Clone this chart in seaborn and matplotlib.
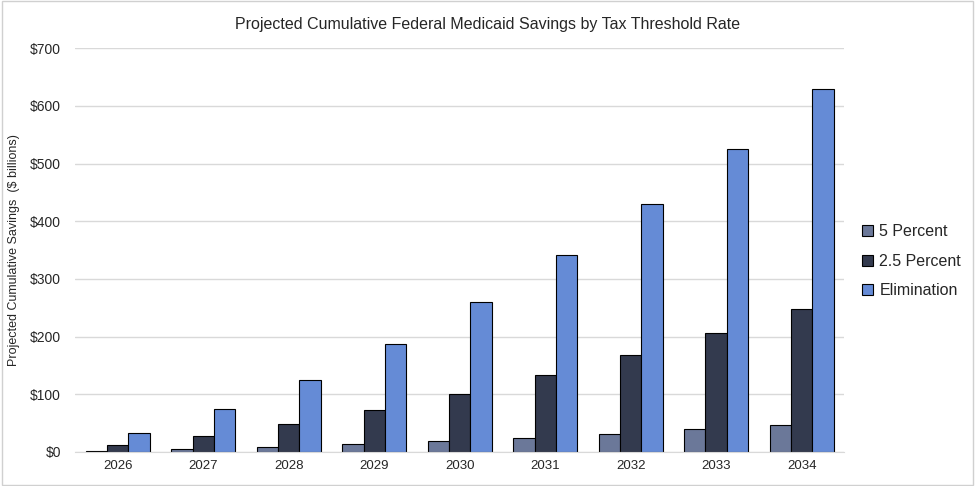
import pandas as pd
import matplotlib.pyplot as plt
import seaborn as sns
from matplotlib.patches import Rectangle

# Valores ($ bilhões)
anos = ["2026", "2027", "2028", "2029", "2030", "2031", "2032", "2033", "2034"]
cenarios = ["5 Percent", "2.5 Percent", "Elimination"]
cinco_pct = [1, 5, 9, 14, 19, 25, 32, 39, 47]
dois_meio_pct = [12, 28, 48, 73, 100, 133, 168, 207, 247]
eliminacao = [33, 74, 125, 187, 260, 341, 430, 525, 629]

cores = ["#6b7899", "#333a4e", "#658bd6"]

df = pd.DataFrame({
    "Ano": anos * 3,
    "Cenario": [cenarios[0]] * 9 + [cenarios[1]] * 9 + [cenarios[2]] * 9,
    "Valor": cinco_pct + dois_meio_pct + eliminacao,
})

sns.set_style("white")
plt.rcParams['font.family'] = ['Liberation Sans', 'DejaVu Sans']

fig = plt.figure(figsize=(9.75, 4.86), dpi=100)
ax = fig.add_axes([0.077, 0.07, 0.789, 0.831])

sns.barplot(data=df, x="Ano", y="Valor", hue="Cenario", palette=cores, saturation=1,
            width=0.75, edgecolor="black", linewidth=0.8, ax=ax, legend=True)

ax.set_ylim(0, 700)
ax.set_xlim(-0.5, 8.5)
ax.set_yticks(range(0, 701, 100))
ax.set_yticklabels([f"${v}" for v in range(0, 701, 100)], fontsize=10)
ax.yaxis.grid(True, color="#d9d9d9", linewidth=1)
ax.set_axisbelow(True)
ax.tick_params(axis="x", labelsize=9.5, length=0, pad=6)
ax.tick_params(axis="y", length=0, pad=10)
for lado in ["left", "right", "top"]:
    ax.spines[lado].set_visible(False)
ax.spines["bottom"].set_color("#d9d9d9")
ax.set_xlabel("")
ax.set_ylabel("Projected Cumulative Savings  ($ billions)", fontsize=9)
ax.yaxis.set_label_coords(-0.072, 0.5)

fig.suptitle("Projected Cumulative Federal Medicaid Savings by Tax Threshold Rate",
             x=0.5, y=0.965, fontsize=11.5)

leg = ax.legend(loc="center left", bbox_to_anchor=(1.008, 0.472), frameon=False,
                fontsize=11.5, handlelength=0.7, handleheight=0.7,
                handletextpad=0.4, labelspacing=0.9, borderaxespad=0.3)

# borda da figura
fig.patches.append(Rectangle((0.002, 0.003), 0.996, 0.994, transform=fig.transFigure,
                             fill=False, edgecolor="#d0d0d0", linewidth=1))

plt.savefig("out.png", dpi=100)
